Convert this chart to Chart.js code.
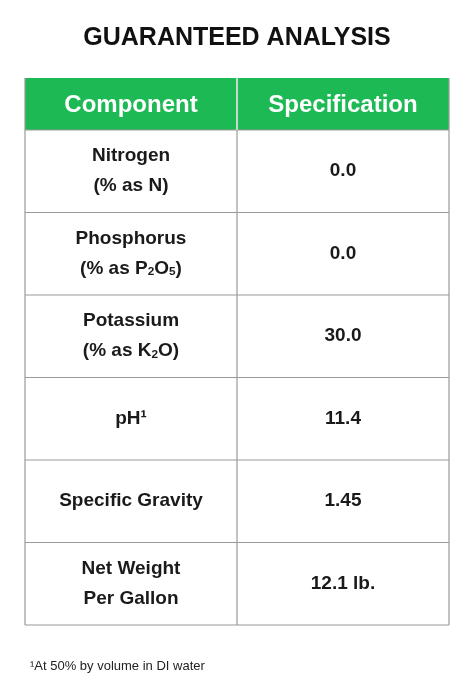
<!DOCTYPE html>
<html><head><meta charset="utf-8">
<script src="https://cdn.jsdelivr.net/npm/chart.js@4"></script>
<style>html,body{margin:0;padding:0;background:#fff}#w{width:474px;height:696px}</style>
</head><body><div id="w"><canvas id="c"></canvas></div>
<script>
const title = "GUARANTEED ANALYSIS";
const headers = ["Component", "Specification"];
const components = [["Nitrogen","(% as N)"],["Phosphorus","(% as P{2}O{5})"],["Potassium","(% as K{2}O)"],["pH¹"],["Specific Gravity"],["Net Weight","Per Gallon"]];
const specs = ["0.0","0.0","30.0","11.4","1.45","12.1 lb."];
const footnote = "¹At 50% by volume in DI water";
const FONT = "'Liberation Sans', Arial, sans-serif";

function richText(ctx, s, cx, y, size){
  const parts = s.split(/(\{[^}]*\})/).filter(p=>p.length);
  const segs = parts.map(p=>p[0]==='{'?{t:p.slice(1,-1),sub:true}:{t:p,sub:false});
  let w=0;
  segs.forEach(g=>{ctx.font="bold "+(g.sub?size*0.62:size)+"px "+FONT; g.w=ctx.measureText(g.t).width; w+=g.w;});
  let x=cx-w/2;
  ctx.textAlign="left"; ctx.textBaseline="middle";
  segs.forEach(g=>{ctx.font="bold "+(g.sub?size*0.62:size)+"px "+FONT; ctx.fillText(g.t,x,y+(g.sub?3:0)); x+=g.w;});
}

const tablePlugin = {
  id:"tbl",
  afterDatasetsDraw(chart){
    const ctx=chart.ctx, xs=chart.scales.x, ys=chart.scales.y, a=chart.chartArea;
    const L=xs.getPixelForValue(0), M=xs.getPixelForValue(1), R=xs.getPixelForValue(2);
    const rowH=(a.bottom-a.top)/components.length;
    const hTop=a.top-52;
    ctx.save();
    ctx.fillStyle="#1db954"; ctx.fillRect(L,hTop,R-L,a.top-hTop);
    ctx.fillStyle="#111"; ctx.font="bold 25px "+FONT; ctx.textAlign="center"; ctx.textBaseline="middle";
    ctx.fillText(title,(L+R)/2,38);
    ctx.fillStyle="#fff"; ctx.font="bold 24px "+FONT;
    ctx.fillText(headers[0],(L+M)/2,(hTop+a.top)/2+1);
    ctx.fillText(headers[1],(M+R)/2,(hTop+a.top)/2+1);
    ctx.strokeStyle="#9a9a9a"; ctx.lineWidth=1.2;
    ctx.beginPath();
    ctx.moveTo(L,hTop); ctx.lineTo(L,a.bottom); ctx.moveTo(R,hTop); ctx.lineTo(R,a.bottom);
    ctx.moveTo(M,hTop); ctx.lineTo(M,a.bottom);
    for(let i=0;i<=components.length;i++){const y=a.top+i*rowH; ctx.moveTo(L,y); ctx.lineTo(R,y);}
    ctx.stroke();
    ctx.strokeStyle="#fff"; ctx.beginPath(); ctx.moveTo(M,hTop); ctx.lineTo(M,a.top); ctx.stroke();
    ctx.fillStyle="#1a1a1a";
    components.forEach((lines,i)=>{
      const yc=ys.getPixelForValue(i);
      const n=lines.length;
      lines.forEach((ln,j)=>richText(ctx,ln,(L+M)/2,yc+(j-(n-1)/2)*30,19));
      richText(ctx,specs[i],(M+R)/2,yc,19);
    });
    ctx.font="13px "+FONT; ctx.textAlign="left"; ctx.fillStyle="#222";
    ctx.fillText(footnote,30,666);
    ctx.restore();
  }
};

new Chart(document.getElementById("c"),{
  type:"bar",
  data:{labels:components.map(c=>c.join(" ")),datasets:[{data:specs.map(()=>[0,2]),backgroundColor:"rgba(0,0,0,0)"}]},
  options:{indexAxis:"y",responsive:true,maintainAspectRatio:false,animation:false,
    layout:{padding:{left:25,right:25,top:130,bottom:71}},
    plugins:{legend:{display:false},tooltip:{enabled:false}},
    scales:{x:{type:"linear",min:0,max:2,display:false},y:{type:"category",display:false,offset:true}}},
  plugins:[tablePlugin]
});
</script></body></html>
